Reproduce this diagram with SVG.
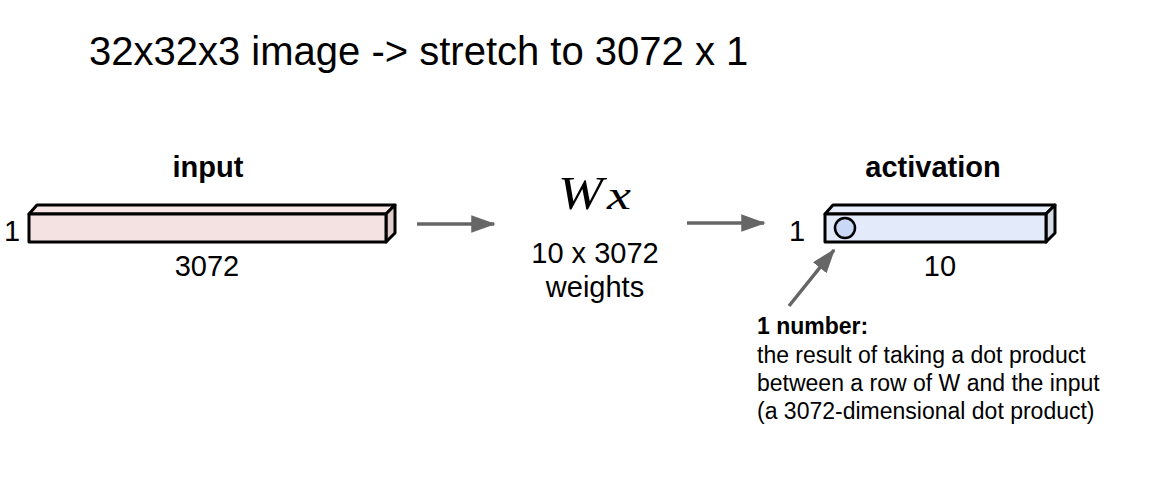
<svg xmlns="http://www.w3.org/2000/svg" width="1153" height="487" viewBox="0 0 1153 487">
<style>
text{font-family:"Liberation Sans",Arial,sans-serif;fill:#000}
.lbl{font-size:29px}
.b{font-weight:bold}
.note{font-size:23px}
.math{font-family:"Liberation Serif","Times New Roman",serif;font-style:italic}
.edge{stroke:#666;stroke-width:3.5;fill:none}
.box{stroke:#000;stroke-width:3;stroke-linejoin:round}
</style>
<defs>
<marker id="ah" markerWidth="7" markerHeight="5" refX="6.5" refY="2.5" orient="auto" markerUnits="strokeWidth">
<path d="M0,0 L7,2.5 L0,5 Z" fill="#666"/>
</marker>
</defs>
<rect width="1153" height="487" fill="#fff"/>
<text x="89" y="65" style="font-size:40px">32x32x3 image -&gt; stretch to 3072 x 1</text>
<g id="input">
<text class="lbl b" x="208" y="177" text-anchor="middle">input</text>
<path class="box" d="M29,214 L37,205 L395,205 L386,214 Z" fill="#f7e6e6"/>
<path class="box" d="M386,214 L395,205 L395,233 L386,242 Z" fill="#e2cccc"/>
<rect class="box" x="29" y="214" width="357" height="28" fill="#f4e1e1"/>
<text class="lbl" x="12" y="241" text-anchor="middle">1</text>
<text class="lbl" x="207" y="276" text-anchor="middle">3072</text>
</g>
<g id="weights">
<text class="math" x="558" y="209" style="font-size:47px" textLength="45" lengthAdjust="spacingAndGlyphs">W</text>
<text class="math" x="607" y="209" style="font-size:40px" textLength="24" lengthAdjust="spacingAndGlyphs">x</text>
<text class="lbl" x="595" y="263" text-anchor="middle">10 x 3072</text>
<text class="lbl" x="595" y="297" text-anchor="middle">weights</text>
</g>
<g id="activation">
<text class="lbl b" x="933" y="177" text-anchor="middle">activation</text>
<path class="box" d="M825,214 L833,205 L1055,205 L1046,214 Z" fill="#e8eefb"/>
<path class="box" d="M1046,214 L1055,205 L1055,233 L1046,242 Z" fill="#d4dae6"/>
<rect class="box" x="825" y="214" width="221" height="28" fill="#e3eaf9"/>
<circle cx="845" cy="228" r="10" fill="#c9d8f4" stroke="#000" stroke-width="2.5"/>
<text class="lbl" x="797" y="241" text-anchor="middle">1</text>
<text class="lbl" x="940" y="276" text-anchor="middle">10</text>
</g>
<g id="note">
<text class="note b" x="757" y="334">1 number:</text>
<text class="note" x="757" y="363">the result of taking a dot product</text>
<text class="note" x="757" y="391">between a row of W and the input</text>
<text class="note" x="757" y="419">(a 3072-dimensional dot product)</text>
</g>
<g id="connectors">
<line class="edge" x1="417" y1="224" x2="494" y2="224" marker-end="url(#ah)"/>
<line class="edge" x1="687" y1="223" x2="764" y2="223" marker-end="url(#ah)"/>
<line class="edge" x1="789" y1="306" x2="834" y2="250" marker-end="url(#ah)"/>
</g>
</svg>
